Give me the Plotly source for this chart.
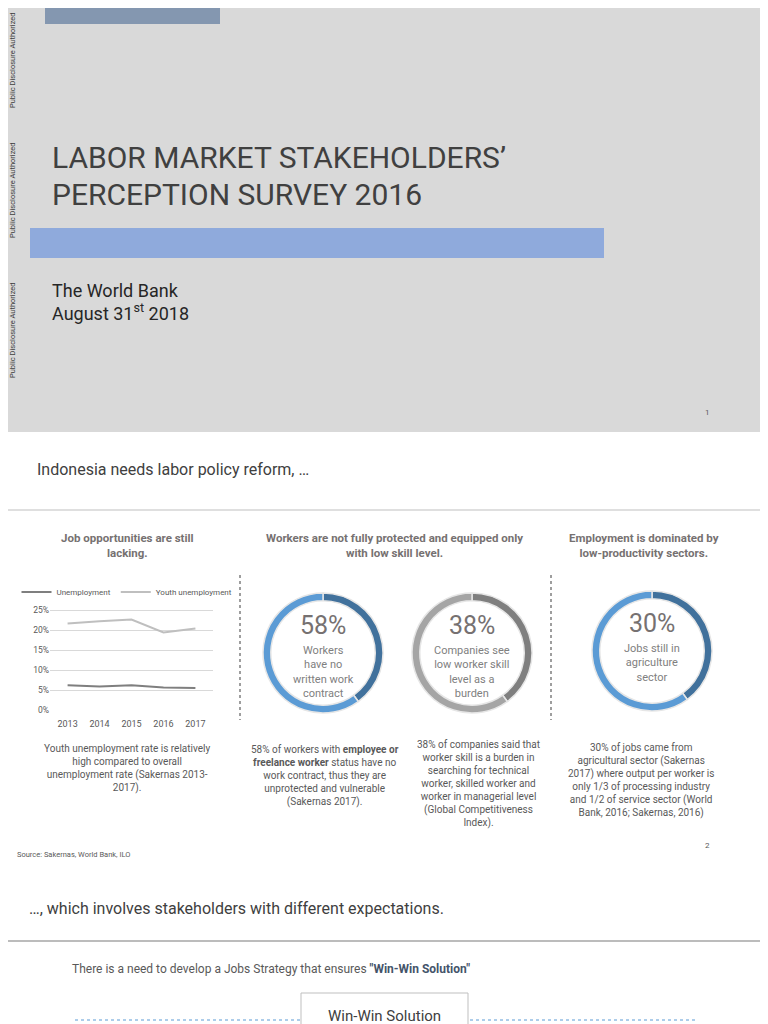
import plotly.graph_objects as go

W, H = 768, 1024
OFF = 8  # page body margin, shift content so it lands where the reference has it

years = ["2013", "2014", "2015", "2016", "2017"]
unemployment = [6.2, 5.9, 6.2, 5.6, 5.5]
youth_unemployment = [21.6, 22.2, 22.6, 19.4, 20.4]
y_ticks = [0, 5, 10, 15, 20, 25]
y_tick_labels = ["0%", "5%", "10%", "15%", "20%", "25%"]

donut_values = [58, 38, 30]
donut_labels = ["58%", "38%", "30%"]
donut_texts = ["Workers<br>have no<br>written work<br>contract",
               "Companies see<br>low worker skill<br>level as a<br>burden",
               "Jobs still in<br>agriculture<br>sector"]
donut_colors = [("#5b9bd5", "#41719c"), ("#a5a5a5", "#7f7f7f"), ("#5b9bd5", "#41719c")]
donut_centers = [(323, 653), (472, 653), (652, 651)]

FONT = "Roboto"
fig = go.Figure()


def dx(px):
    return (px - OFF) / W


def dy(py):
    return 1 - (py - OFF) / H


# line chart
fig.add_trace(go.Scatter(x=years, y=unemployment, mode="lines", name="Unemployment",
                         line=dict(color="#7f7f7f", width=2), xaxis="x2", yaxis="y2"))
fig.add_trace(go.Scatter(x=years, y=youth_unemployment, mode="lines", name="Youth unemployment",
                         line=dict(color="#bfbfbf", width=2), xaxis="x2", yaxis="y2"))

# donuts
r = 60
for v, lab, txt_, (c1, c2), (cx, cy) in zip(donut_values, donut_labels, donut_texts, donut_colors, donut_centers):
    fig.add_trace(go.Pie(values=[40, 60], hole=0.87, sort=False, direction="clockwise",
                         rotation=0, textinfo="none", hoverinfo="skip", showlegend=False,
                         marker=dict(colors=[c2, c1], line=dict(color="#e6e6e6", width=1.5)),
                         domain=dict(x=[dx(cx - r), dx(cx + r)], y=[dy(cy + r), dy(cy - r)])))
    fig.add_annotation(x=cx, y=cy - 28, text=lab, showarrow=False, xref="x", yref="y",
                       font=dict(family=FONT, size=25, color="#767171"))
    fig.add_annotation(x=cx, y=cy - 11, text=txt_, showarrow=False, xref="x", yref="y", yanchor="top",
                       font=dict(family=FONT, size=11, color="#808080"))

shapes = [
    dict(type="rect", x0=0, x1=W + OFF, y0=0, y1=432, fillcolor="#d9d9d9", line_width=0, layer="below"),
    dict(type="rect", x0=45, x1=220, y0=0, y1=24, fillcolor="#8497b0", line_width=0, layer="below"),
    dict(type="rect", x0=30, x1=604, y0=228, y1=258, fillcolor="#8faadc", line_width=0, layer="below"),
    dict(type="line", x0=0, x1=W + OFF, y0=510, y1=510, line=dict(color="#bfbfbf", width=1)),
    dict(type="line", x0=240, x1=240, y0=575, y1=720, line=dict(color="#7f7f7f", width=1.5, dash="dot")),
    dict(type="line", x0=551, x1=551, y0=575, y1=720, line=dict(color="#7f7f7f", width=1.5, dash="dot")),
    dict(type="line", x0=0, x1=W + OFF, y0=941, y1=941, line=dict(color="#a6a6a6", width=1.5)),
    dict(type="line", x0=75, x1=300, y0=1020, y1=1020, line=dict(color="#5b9bd5", width=1, dash="dot")),
    dict(type="line", x0=470, x1=695, y0=1020, y1=1020, line=dict(color="#5b9bd5", width=1, dash="dot")),
    dict(type="rect", x0=301, x1=468, y0=993, y1=1040, fillcolor="white", line=dict(color="#bfbfbf", width=1)),
]


def txt(x, y, s, size, color="#404040", xanchor="left", yanchor="middle", angle=0, **kw):
    fig.add_annotation(x=x, y=y, text=s, showarrow=False, xref="x", yref="y", xanchor=xanchor,
                       yanchor=yanchor, textangle=angle, align=kw.pop("align", "left"),
                       font=dict(family=FONT, size=size, color=color), **kw)


txt(50, 157, "LABOR MARKET STAKEHOLDERS’", 30, "#404040")
txt(50, 194, "PERCEPTION SURVEY 2016", 30, "#404040")
txt(50, 290, "The World Bank", 18, "#262626")
txt(50, 312, "August 31<sup>st</sup> 2018", 18, "#262626")
txt(707, 412, "1", 8, "#595959", xanchor="center")
for yy in [60, 190, 330]:
    txt(12, yy, "Public Disclosure Authorized", 7.5, "#404040", xanchor="center", angle=-90)
txt(35, 469, "Indonesia needs labor policy reform, …", 16, "#404040")
txt(127, 545, "<b>Job opportunities are still<br>lacking.</b>", 11.5, "#767171", xanchor="center", align="center")
txt(394, 545, "<b>Workers are not fully protected and equipped only<br>with low skill level.</b>", 11.5, "#767171", xanchor="center", align="center")
txt(644, 545, "<b>Employment is dominated by<br>low-productivity sectors.</b>", 11.5, "#767171", xanchor="center", align="center")
txt(127, 768, "Youth unemployment rate is relatively<br>high compared to overall<br>unemployment rate (Sakernas 2013-<br>2017).",
    10, "#595959", xanchor="center", align="center")
txt(325, 776, "58% of workers with <b>employee or<br>freelance worker</b> status have no<br>work contract, thus they are<br>unprotected and vulnerable<br>(Sakernas 2017).",
    10, "#595959", xanchor="center", align="center")
txt(478, 784, "38% of companies said that<br>worker skill is a burden in<br>searching for technical<br>worker, skilled worker and<br>worker in managerial level<br>(Global Competitiveness<br>Index).",
    10, "#595959", xanchor="center", align="center")
txt(641, 780, "30% of jobs came from<br>agricultural sector (Sakernas<br>2017) where output per worker is<br>only 1/3 of processing industry<br>and 1/2 of service sector (World<br>Bank, 2016; Sakernas, 2016)",
    10, "#595959", xanchor="center", align="center")
txt(15, 854, "Source: Sakernas, World Bank, ILO", 7.5, "#595959")
txt(707, 845, "2", 8, "#595959", xanchor="center")
txt(27, 908, "…, which involves stakeholders with different expectations.", 16, "#404040")
txt(70, 969, "There is a need to develop a Jobs Strategy that ensures <b><span style='color:#44546a'>\"Win-Win Solution\"</span></b>",
    12, "#595959")
txt(384, 1016, "Win-Win Solution", 15, "#404040", xanchor="center")

fig.update_layout(
    width=W, height=H, margin=dict(l=0, r=0, t=0, b=0, autoexpand=False),
    paper_bgcolor="white", plot_bgcolor="rgba(0,0,0,0)", shapes=shapes,
    xaxis=dict(range=[OFF, W + OFF], visible=False, fixedrange=True, automargin=False),
    yaxis=dict(range=[H + OFF, OFF], visible=False, fixedrange=True, automargin=False),
    xaxis2=dict(domain=[dx(50), dx(213)], anchor="y2", showgrid=False, showline=False, automargin=False,
                range=[-0.55, 4.55], ticks="outside", ticklen=5, tickcolor="rgba(0,0,0,0)",
                tickfont=dict(family=FONT, size=9, color="#595959")),
    yaxis2=dict(domain=[dy(710), dy(605)], anchor="x2", range=[0, 26.25], automargin=False,
                tickvals=y_ticks, ticktext=y_tick_labels, gridcolor="#d9d9d9", zeroline=False,
                tickfont=dict(family=FONT, size=8.5, color="#595959")),
    legend=dict(orientation="h", x=dx(127), xanchor="center", y=dy(592), yanchor="middle",
                font=dict(family=FONT, size=8, color="#595959"), bgcolor="rgba(0,0,0,0)",
                itemwidth=30, tracegroupgap=0),
)

fig.write_html("out.html")
